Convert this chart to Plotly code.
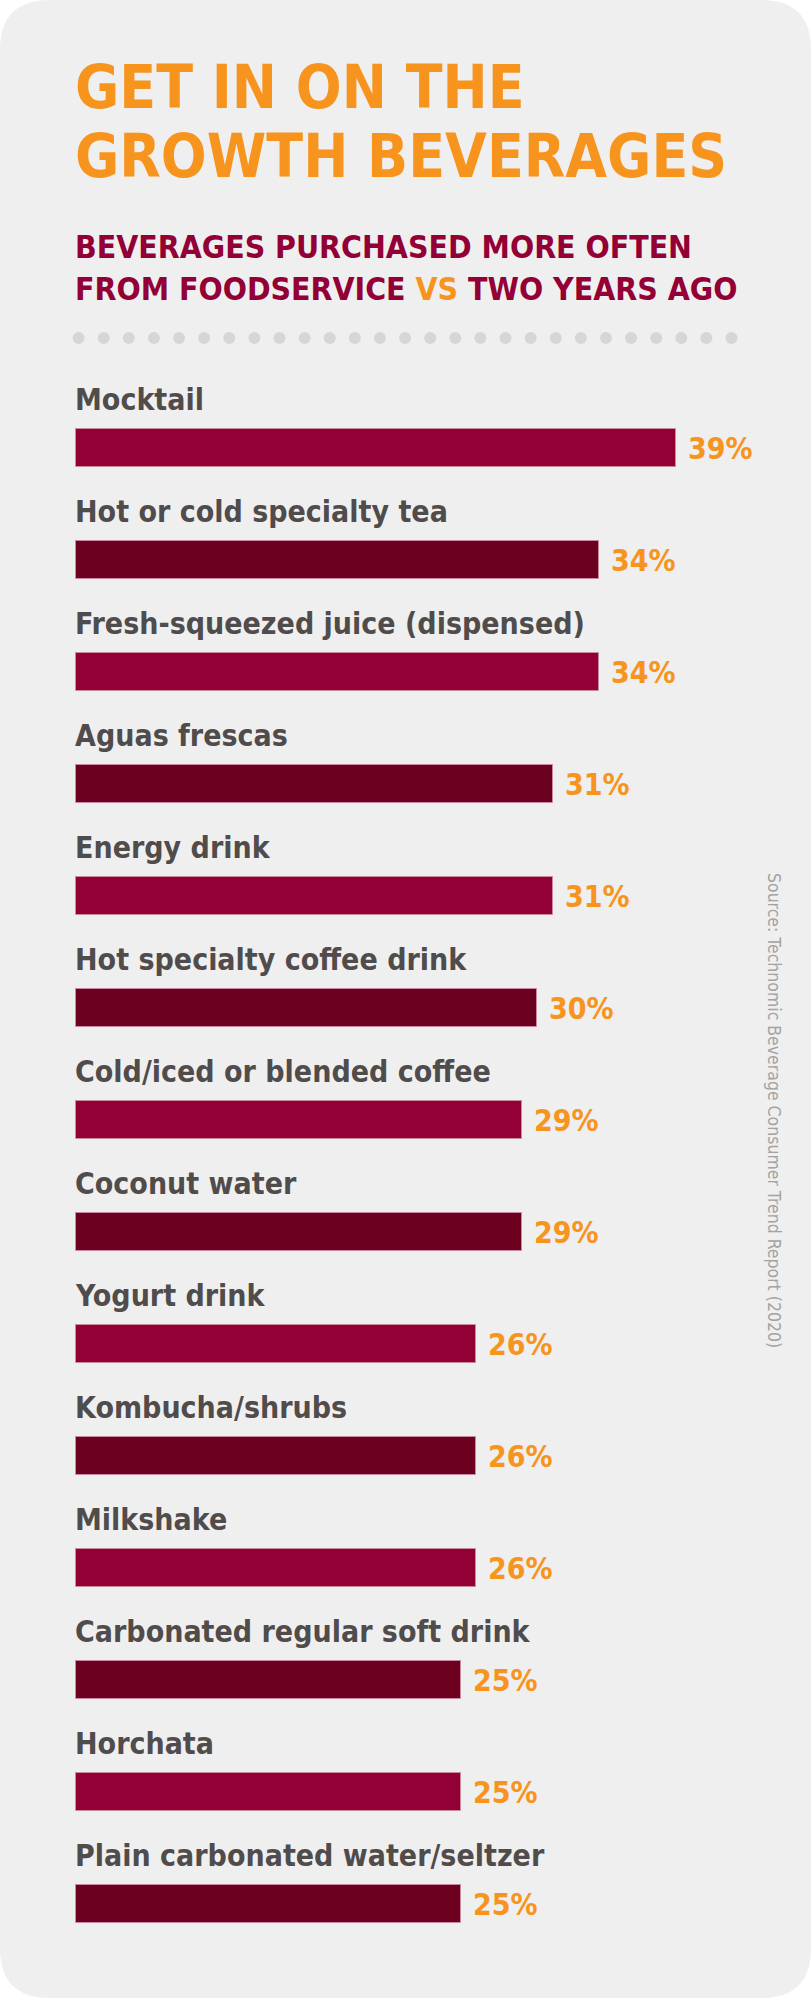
import plotly.graph_objects as go

# ---- data ----
categories = [
    "Mocktail",
    "Hot or cold specialty tea",
    "Fresh-squeezed juice (dispensed)",
    "Aguas frescas",
    "Energy drink",
    "Hot specialty coffee drink",
    "Cold/iced or blended coffee",
    "Coconut water",
    "Yogurt drink",
    "Kombucha/shrubs",
    "Milkshake",
    "Carbonated regular soft drink",
    "Horchata",
    "Plain carbonated water/seltzer",
]
values = [39, 34, 34, 31, 31, 30, 29, 29, 26, 26, 26, 25, 25, 25]
value_labels = [f"{v}%" for v in values]

title_lines = ["GET IN ON THE", "GROWTH BEVERAGES"]
subtitle_lines = ["BEVERAGES PURCHASED MORE OFTEN",
                  'FROM FOODSERVICE <span style="color:#F7941D">VS</span> TWO YEARS AGO']
source_text = "Source: Technomic Beverage Consumer Trend Report (2020)"

# ---- style / layout ----
W, H = 811, 2000
FONT = "DejaVu Sans Condensed, sans-serif"
ORANGE = "#F7941D"
CRIMSON = "#920036"
DARK = "#6B001F"
GREY_TXT = "#504C4C"
BG = "#EFEFEF"

X0_PX = 76.0        # pixel of 0%
PX_PER_PCT = 15.38
Y0_PX = 447.5       # pixel centre of first bar
ROW_PX = 112.0
BAR_PX = 38.0

n = len(categories)
ypos = list(range(n))
colors = [CRIMSON if i % 2 == 0 else DARK for i in range(n)]

fig = go.Figure()
fig.add_trace(go.Bar(
    x=values, y=ypos, orientation="h",
    marker=dict(color=colors, line=dict(width=1, color="#C98A9E")),
    width=BAR_PX / ROW_PX,
    hoverinfo="skip",
))

annotations = []
for i, (c, lab, v) in enumerate(zip(categories, value_labels, values)):
    annotations.append(dict(
        x=0, y=i, xref="x", yref="y", text=f"<b>{c}</b>",
        xanchor="left", yanchor="middle", yshift=48, xshift=-3,
        showarrow=False, font=dict(family=FONT, size=30, color=GREY_TXT)))
    annotations.append(dict(
        x=v, y=i, xref="x", yref="y", text=f"<b>{lab}</b>",
        xanchor="left", yanchor="middle", xshift=10, yshift=-1,
        showarrow=False, font=dict(family=FONT, size=30, color=ORANGE)))

def py(px):
    return 1 - px / H

def pxx(px):
    return px / W

for line, cy in zip(title_lines, [87.5, 156]):
    annotations.append(dict(
        x=pxx(X0_PX - 3), y=py(cy), xref="paper", yref="paper",
        text=f"<b>{line}</b>", xanchor="left", yanchor="middle",
        showarrow=False, font=dict(family=FONT, size=60, color=ORANGE)))

for line, cy in zip(subtitle_lines, [247, 289]):
    annotations.append(dict(
        x=pxx(X0_PX - 3), y=py(cy), xref="paper", yref="paper",
        text=f"<b>{line}</b>", xanchor="left", yanchor="middle",
        showarrow=False, font=dict(family=FONT, size=31.7, color=CRIMSON)))

annotations.append(dict(
    x=pxx(774), y=py(1110), xref="paper", yref="paper",
    text=source_text, textangle=90, xanchor="center", yanchor="middle",
    showarrow=False, font=dict(family=FONT, size=17.5, color="#A3A3A3")))

shapes = []
# rounded background panel
r = 50
x1, y1 = W, 1998
path = (f"M {pxx(r)},{py(0)} L {pxx(x1 - r)},{py(0)} "
        f"Q {pxx(x1)},{py(0)} {pxx(x1)},{py(r)} "
        f"L {pxx(x1)},{py(y1 - r)} Q {pxx(x1)},{py(y1)} {pxx(x1 - r)},{py(y1)} "
        f"L {pxx(r)},{py(y1)} Q {pxx(0)},{py(y1)} {pxx(0)},{py(y1 - r)} "
        f"L {pxx(0)},{py(r)} Q {pxx(0)},{py(0)} {pxx(r)},{py(0)} Z")
shapes.append(dict(type="path", path=path, xref="paper", yref="paper",
                   fillcolor=BG, line=dict(width=0), layer="below"))
# dotted separator
n_dots = 27
d0, d1, dy, rad = 78.6, 731.5, 338, 6
for k in range(n_dots):
    cx = d0 + (d1 - d0) * k / (n_dots - 1)
    shapes.append(dict(type="circle", xref="paper", yref="paper",
                       x0=pxx(cx - rad), x1=pxx(cx + rad),
                       y0=py(dy + rad), y1=py(dy - rad),
                       fillcolor="#D6D6D6", line=dict(width=0), layer="below"))

fig.update_layout(
    width=W, height=H,
    margin=dict(l=0, r=0, t=0, b=0),
    paper_bgcolor="white", plot_bgcolor="rgba(0,0,0,0)",
    showlegend=False,
    xaxis=dict(range=[-X0_PX / PX_PER_PCT, (W - X0_PX) / PX_PER_PCT],
               visible=False, fixedrange=True),
    yaxis=dict(range=[(H - Y0_PX) / ROW_PX, -Y0_PX / ROW_PX],
               visible=False, fixedrange=True),
    annotations=annotations, shapes=shapes,
    bargap=0,
)

fig.write_html("out.html")
